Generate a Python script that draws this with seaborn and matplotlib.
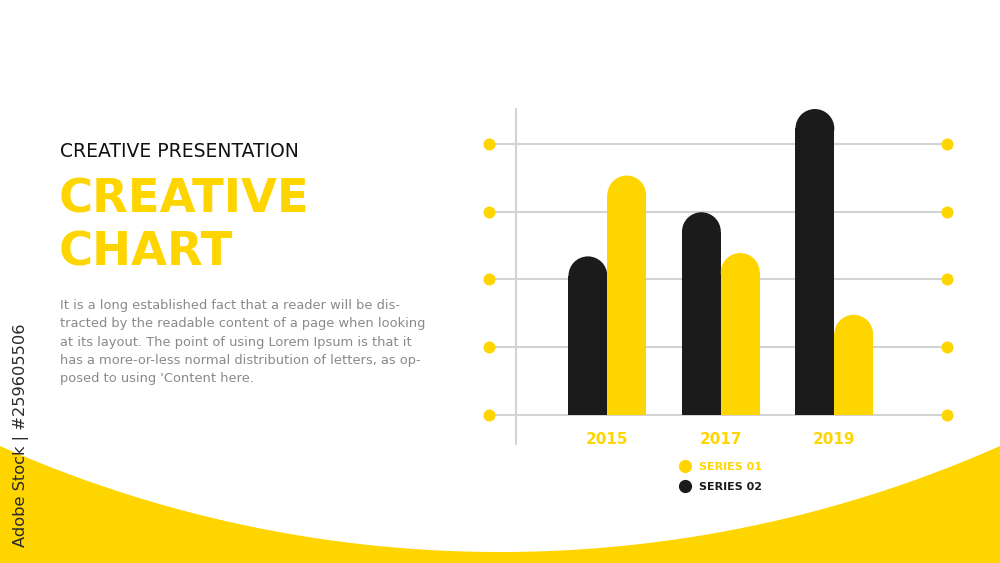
import numpy as np
import pandas as pd
import seaborn as sns
import matplotlib.pyplot as plt
from matplotlib.patches import Rectangle, Ellipse
from matplotlib.lines import Line2D

YELLOW = '#FFD500'
BLACK = '#1B1B1B'
GRID = '#D3D3D3'

# 数据
years = ['2015', '2017', '2019']
series_names = ['SERIES 01', 'SERIES 02']
series_01 = [35.3, 23.9, 14.8]   # 黄色
series_02 = [23.4, 29.9, 45.1]   # 黑色
grid_values = [0, 10, 20, 30, 40]

body_lines = [
    "It is a long established fact that a reader will be dis-",
    "tracted by the readable content of a page when looking",
    "at its layout. The point of using Lorem Ipsum is that it",
    "has a more-or-less normal distribution of letters, as op-",
    "posed to using 'Content here.",
]

df = pd.DataFrame({
    'year': years * 2,
    'series': [series_names[0]] * len(years) + [series_names[1]] * len(years),
    'value': series_01 + series_02,
})

sns.set_theme(style='white')
plt.rcParams['font.family'] = ['DejaVu Sans']

fig = plt.figure(figsize=(10, 5.63), dpi=100)
fig.patch.set_facecolor('white')

# 背景层 (像素坐标)
bg = fig.add_axes([0, 0, 1, 1], zorder=0)
bg.set_xlim(0, 1000)
bg.set_ylim(563, 0)
bg.axis('off')
cx, cy = 500, -680.2
R = 552 - cy
xs = np.linspace(0, 1000, 500)
ys = cy + np.sqrt(R ** 2 - (xs - cx) ** 2)
bg.fill_between(xs, ys, 563, color=YELLOW, lw=0)

bg.text(60, 157.3, 'CREATIVE PRESENTATION', fontsize=13.5, color='#111111', va='baseline')
bg.text(59, 212.3, 'CREATIVE', fontsize=33.5, fontweight='bold', color=YELLOW, va='baseline')
bg.text(59, 265, 'CHART', fontsize=33.5, fontweight='bold', color=YELLOW, va='baseline')
bg.text(60, 299, '\n'.join(body_lines), fontsize=9.4, color='#8A8A8A', va='top', linespacing=1.53)
bg.text(21.5, 435, 'Adobe Stock | #259605506', rotation=90, ha='center', va='center',
        fontsize=11.7, color='#2A2A2A')

# 柱状图
ax = fig.add_axes([0.47, (563 - 455) / 563, 0.495, 355 / 563], zorder=2)
ax.set_facecolor('none')
sns.barplot(data=df, x='year', y='value', hue='series', order=years,
            hue_order=[series_names[1], series_names[0]],
            palette=[BLACK, YELLOW], width=0.684, saturation=1,
            legend=False, ax=ax)
ax.set_xlim(-1.2097, 3.1515)
ax.set_ylim(-5.85, 46.43)
ax.axis('off')

# 圆顶柱
sx = ax.transData.transform((1, 0))[0] - ax.transData.transform((0, 0))[0]
sy = ax.transData.transform((0, 1))[1] - ax.transData.transform((0, 0))[1]
for bar in list(ax.patches):
    x0, w, h = bar.get_x(), bar.get_width(), bar.get_height()
    col = bar.get_facecolor()
    r = (w * sx / 2) / sy
    bar.set_visible(False)
    ax.add_patch(Rectangle((x0, 0), w, h - r, color=col, lw=0, zorder=3))
    ax.add_patch(Ellipse((x0 + w / 2, h - r), w, 2 * r, color=col, lw=0, zorder=3))

gx0, gx1 = -1.045, 2.996
ax.hlines(grid_values, gx0, gx1, color=GRID, lw=1.5, zorder=1)
ax.scatter([gx0] * len(grid_values) + [gx1] * len(grid_values), grid_values * 2,
           s=75, color=YELLOW, lw=0, zorder=4, clip_on=False)
ax.vlines(-0.807, -4.37, 45.26, color=GRID, lw=1.5, zorder=1)

for i, yr in enumerate(years):
    ax.text(i, -3.53, yr, ha='center', va='center', color=YELLOW,
            fontsize=11, fontweight='bold')

handles = [Line2D([], [], ls='', marker='o', ms=8.5, color=c) for c in [YELLOW, BLACK]]
fig.legend(handles, series_names, loc='center left',
           bbox_to_anchor=(679 / 1000, 1 - 477 / 563), frameon=False,
           handlelength=1, handletextpad=0.8, labelspacing=0.85,
           borderpad=0, borderaxespad=0, labelcolor=[YELLOW, BLACK],
           prop={'weight': 'bold', 'size': 8})

fig.savefig('out.png', dpi=100)
